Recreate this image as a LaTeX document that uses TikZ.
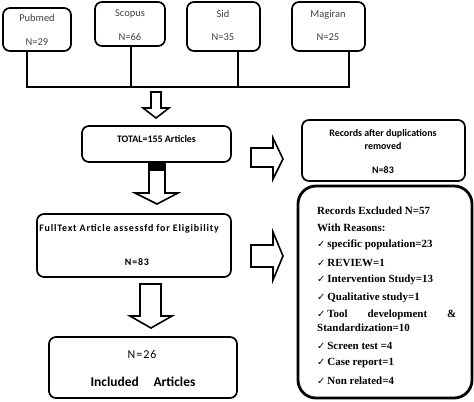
\documentclass[tikz,border=0pt]{standalone}
\usepackage{fontspec}
\setmainfont{Liberation Serif}
\newfontfamily\calfont{Carlito}
\newfontfamily\calsp[LetterSpace=8]{Carlito}
\newfontfamily\dvfont{DejaVu Sans}
\newcommand{\ck}{{\dvfont\bfseries\fontsize{10}{10}\selectfont ✓}\,}
\begin{document}
\begin{tikzpicture}[x=1bp,y=-1bp,
  box/.style={draw=black, line width=1.7bp, rounded corners=7bp, inner sep=0pt},
  bigbox/.style={draw=black, line width=2.8bp, rounded corners=18bp, inner sep=0pt},
  stxt/.style={font=\calfont\fontsize{10.5}{12}\selectfont, text=black!75, inner sep=0pt},
  btxt/.style={font=\calfont\bfseries\fontsize{10}{12}\selectfont, inner sep=0pt},
  ftxt/.style={font=\calsp\bfseries\fontsize{10}{12}\selectfont, inner sep=0pt},
  rtxt/.style={font=\calfont\bfseries\fontsize{10}{11}\selectfont, inner sep=0pt},
  etxt/.style={font=\bfseries\fontsize{11}{12}\selectfont, anchor=west, inner sep=0pt},
  conn/.style={draw=black, line width=1.7bp},
  harrow/.style={draw=black, line width=1.6bp, fill=white, line join=miter}]
\useasboundingbox (0,0) rectangle (474,401);

% top source boxes
\node[box, minimum width=68bp, minimum height=43bp] (pub) at (37,29.5) {};
\node[stxt] (pubt) at (37,18) {Pubmed};
\node[stxt] (pubn) at (37,42) {N=29};
\node[box, minimum width=70bp, minimum height=44bp] (sco) at (130,24) {};
\node[stxt] (scot) at (130,14) {Scopus};
\node[stxt] (scon) at (130,37) {N=66};
\node[box, minimum width=73bp, minimum height=49bp] (sid) at (223.5,26.5) {};
\node[stxt] (sidt) at (223,14) {Sid};
\node[stxt] (sidn) at (223,37) {N=35};
\node[box, minimum width=73bp, minimum height=49bp] (mag) at (328.5,26.5) {};
\node[stxt] (magt) at (328,15) {Magiran};
\node[stxt] (magn) at (328,37) {N=25};

% bus lines
\coordinate (j1) at (27,87);
\coordinate (j2) at (131,87);
\coordinate (j3) at (238,87);
\coordinate (j4) at (349,87);
\draw[conn] (pub.south -| j1) -- (j1);
\draw[conn] (sco.south -| j2) -- (j2);
\draw[conn] (sid.south -| j3) -- (j3);
\draw[conn] (mag.south -| j4) -- (j4);
\draw[conn, line cap=rect] (j1) -- (j4);

% hollow down arrow 1
\draw[harrow] (151,92) -- (161,92) -- (161,108) -- (169,108) -- (156,118) -- (143,108) -- (151,108) -- cycle;

% TOTAL box
\node[box, minimum width=149bp, minimum height=36bp] (tot) at (156.5,144) {};
\node[btxt] (tott) at (156.5,139) {TOTAL=155 Articles};

% hollow down arrow 2
\draw[harrow] (149,163) -- (165,163) -- (165,193) -- (178,193) -- (157,204) -- (135,193) -- (149,193) -- cycle;
\fill[black] (149,163) rectangle (165,171);

% right arrow 1
\draw[harrow] (251,148) -- (273,148) -- (273,138) -- (283,159) -- (273,179) -- (273,167) -- (251,167) -- cycle;

% records box
\node[box, minimum width=163bp, minimum height=61bp] (rec) at (383.5,150.5) {};
\node[rtxt] (rec1) at (383,134) {Records after duplications};
\node[rtxt] (rec2) at (383,146) {removed};
\node[rtxt] (rec3) at (383,170) {N=83};

% fulltext box
\node[box, minimum width=194bp, minimum height=63bp] (ful) at (134,245.5) {};
\node[ftxt] (ful1) at (129,229) {FullText Article assessfd for Eligibility};
\node[ftxt] (ful2) at (137,262) {N=83};

% right arrow 2
\draw[harrow] (251,245) -- (273,245) -- (273,232) -- (283,256) -- (273,280) -- (273,267) -- (251,267) -- cycle;

% hollow down arrow 3
\draw[harrow] (140,284) -- (161,284) -- (161,316) -- (172,316) -- (151,328) -- (130,316) -- (140,316) -- cycle;

% included box
\node[box, minimum width=188bp, minimum height=61bp] (inc) at (143,367.5) {};
\node[font=\calsp\fontsize{12}{14}\selectfont, inner sep=0pt] (inc1) at (142,354) {N=26};
\node[font=\calfont\bfseries\fontsize{13.5}{15}\selectfont, inner sep=0pt] (inc2) at (143,382) {Included\hspace{1.1em}Articles};

% exclusion box
\node[bigbox, minimum width=174bp, minimum height=212bp] (exc) at (385,292) {};
\node[etxt] (e1) at (317,211) {Records Excluded N=57};
\node[etxt] (e2) at (317,228) {With Reasons:};
\node[etxt] (e3) at (317,245) {\ck specific population=23};
\node[etxt] (e4) at (317,263) {\ck REVIEW=1};
\node[etxt] (e5) at (317,280) {\ck Intervention Study=13};
\node[etxt] (e6) at (317,298) {\ck Qualitative study=1};
\node[etxt] (e7) at (317,315) {\hbox to 139bp{\ck Tool\hfill development\hfill \&}};
\node[etxt] (e8) at (317,328) {Standardization=10};
\node[etxt] (e9) at (317,346) {\ck Screen test =4};
\node[etxt] (e10) at (317,363) {\ck Case report=1};
\node[etxt] (e11) at (317,381) {\ck Non related=4};
\end{tikzpicture}
\end{document}
